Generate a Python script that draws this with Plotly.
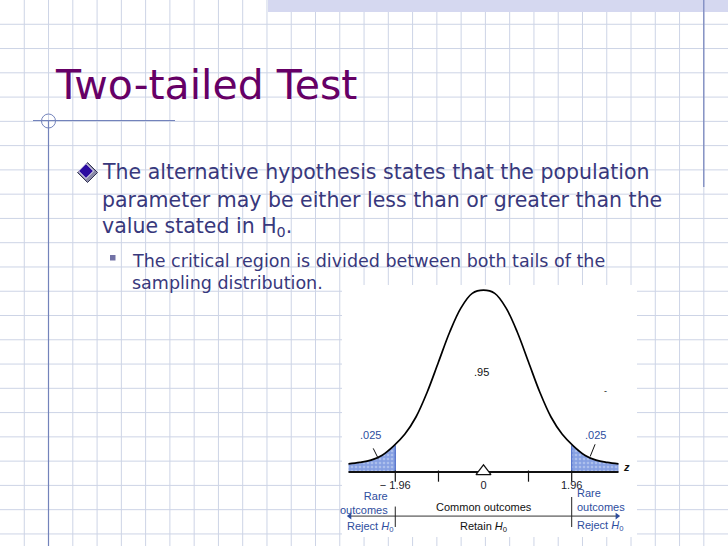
import plotly.graph_objects as go

# normal curve, heights
z_curve = [-3.0, -2.75, -2.5, -2.25, -2.0, -1.75, -1.5, -1.25, -1.0, -0.75, -0.5, -0.25,
           0.0, 0.25, 0.5, 0.75, 1.0, 1.25, 1.5, 1.75, 2.0, 2.25, 2.5, 2.75, 3.0]
dens_curve = [0.018, 0.021, 0.026, 0.037, 0.057, 0.083, 0.121, 0.176, 0.242, 0.308, 0.361, 0.393,
              0.400, 0.393, 0.361, 0.308, 0.242, 0.176, 0.121, 0.083, 0.057, 0.037, 0.026, 0.021, 0.018]

z_tail_left = [-3.0, -2.75, -2.5, -2.25, -1.96]
dens_tail_left = [0.018, 0.021, 0.026, 0.037, 0.059]
z_tail_right = [1.96, 2.25, 2.5, 2.75, 3.0]
dens_tail_right = [0.059, 0.037, 0.026, 0.021, 0.018]

z_crit = [-1.96, 1.96]
tick_vals = [-1.96, -1.0, 1.0, 1.96]
tick_label_vals = [-1.96, 0.0, 1.96]
tick_labels = ["\u2212 1.96", "0", "1.96"]
tail_area = ".025"
mid_area = ".95"

title = "Two-tailed Test"
body_lines = ["The alternative hypothesis states that the population",
              "parameter may be either less than or greater than the",
              "value stated in H<sub>0</sub>."]
sub_lines = ["The critical region is divided between both tails of the",
             "sampling distribution."]

W, H = 728, 546
GRID = 24.27
grid_col = "#cdd4e6"
dark_col = "#7383bb"
blue_txt = "#2d4d9e"
body_col = "#38387c"
slide_font = "DejaVu Sans, Verdana, sans-serif"
fig_font = "Liberation Sans, Arial, sans-serif"


def px(x):
    return x / W


def py(y):
    return (H - y) / H


shapes = []
# notebook grid
i = 1
while i * GRID < W:
    shapes.append(dict(type="line", xref="paper", yref="paper", x0=px(i * GRID), x1=px(i * GRID),
                       y0=0, y1=1, line=dict(color=grid_col, width=1), layer="below"))
    i += 1
j = 1
while j * GRID < H:
    shapes.append(dict(type="line", xref="paper", yref="paper", x0=0, x1=1,
                       y0=py(j * GRID), y1=py(j * GRID), line=dict(color=grid_col, width=1), layer="below"))
    j += 1

# top band
shapes.append(dict(type="rect", xref="paper", yref="paper", x0=px(268), x1=1, y0=py(12), y1=1,
                   fillcolor="#d5d8f0", line=dict(width=0), layer="below"))
# margin lines
shapes.append(dict(type="line", xref="paper", yref="paper", x0=px(48.5), x1=px(48.5), y0=0, y1=py(121),
                   line=dict(color=dark_col, width=1.2), layer="below"))
shapes.append(dict(type="line", xref="paper", yref="paper", x0=px(33), x1=px(175), y0=py(120.5), y1=py(120.5),
                   line=dict(color=dark_col, width=1.2), layer="below"))
shapes.append(dict(type="circle", xref="paper", yref="paper", x0=px(41.5), x1=px(55.5), y0=py(128), y1=py(114),
                   line=dict(color=dark_col, width=1), layer="below"))
shapes.append(dict(type="line", xref="paper", yref="paper", x0=px(703.8), x1=px(703.8), y0=py(187), y1=1,
                   line=dict(color=dark_col, width=1.2), layer="below"))
# white picture area
shapes.append(dict(type="rect", xref="paper", yref="paper", x0=px(342), x1=px(637), y0=py(537), y1=py(285),
                   fillcolor="white", line=dict(width=0), layer="below"))
# bullets
def diamond(cx, cy, r, color, lc):
    path = (f"M {px(cx)} {py(cy - r)} L {px(cx + r)} {py(cy)} L {px(cx)} {py(cy + r)} "
            f"L {px(cx - r)} {py(cy)} Z")
    return dict(type="path", xref="paper", yref="paper", path=path, fillcolor=color,
                line=dict(color=lc, width=1))

shapes.append(diamond(87.5, 172.5, 10, "#8a8aa8", "#333355"))
shapes.append(diamond(86, 171, 7.5, "#2a0aa0", "white"))
shapes.append(dict(type="rect", xref="paper", yref="paper", x0=px(110), x1=px(115.5), y0=py(260.5), y1=py(255),
                   fillcolor="#7272a6", line=dict(width=0)))

fig = go.Figure()

fig.add_trace(go.Scatter(x=z_tail_left, y=dens_tail_left, mode="lines", line=dict(width=0, shape="spline"),
                         fill="tozeroy", fillcolor="#8ca6e6",
                         fillpattern=dict(shape=".", bgcolor="#86a0e2", fgcolor="#d2ddf6", size=4, solidity=0.35),
                         hoverinfo="skip"))
fig.add_trace(go.Scatter(x=z_tail_right, y=dens_tail_right, mode="lines", line=dict(width=0, shape="spline"),
                         fill="tozeroy", fillcolor="#8ca6e6",
                         fillpattern=dict(shape=".", bgcolor="#86a0e2", fgcolor="#d2ddf6", size=4, solidity=0.35),
                         hoverinfo="skip"))
# tail edges
for zc, dc in zip(z_crit, [dens_tail_left[-1], dens_tail_right[0]]):
    fig.add_trace(go.Scatter(x=[zc, zc], y=[0, dc], mode="lines", line=dict(color="#4a6ac8", width=1.2),
                             hoverinfo="skip"))

fig.add_trace(go.Scatter(x=z_curve, y=dens_curve, mode="lines", line=dict(color="black", width=1.7, shape="spline"),
                         hoverinfo="skip"))
# z axis
fig.add_trace(go.Scatter(x=[z_curve[0], z_curve[-1]], y=[0, 0], mode="lines", line=dict(color="#111", width=2),
                         hoverinfo="skip"))
fig.add_trace(go.Scatter(x=tick_vals, y=[-0.009] * len(tick_vals), mode="markers",
                         marker=dict(symbol="line-ns", size=8, line=dict(color="#111", width=1.2)),
                         hoverinfo="skip"))
fig.add_trace(go.Scatter(x=[0], y=[0.0015], mode="markers",
                         marker=dict(symbol="triangle-up", size=13, color="white", line=dict(color="#111", width=1.2)),
                         hoverinfo="skip"))
fig.add_trace(go.Scatter(x=tick_label_vals, y=[-0.031] * 3, mode="text", text=tick_labels,
                         textfont=dict(family=fig_font, size=11, color="#1a1a2a"), hoverinfo="skip"))

# reject / retain arrow
fig.add_trace(go.Scatter(x=[z_curve[0], z_curve[-1]], y=[-0.097, -0.097], mode="lines",
                         line=dict(color="#333", width=1), hoverinfo="skip"))
fig.add_trace(go.Scatter(x=[z_curve[0] + 0.03, z_curve[-1] - 0.03], y=[-0.097, -0.097], mode="markers",
                         marker=dict(symbol=["triangle-left", "triangle-right"], size=6, color="#2d4d9e"),
                         hoverinfo="skip"))
fig.add_trace(go.Scatter(x=[z_crit[0], z_crit[0], None, z_crit[1], z_crit[1]],
                         y=[-0.076, -0.121, None, -0.055, -0.121], mode="lines",
                         line=dict(color="#222", width=1), hoverinfo="skip"))
# leader lines
fig.add_trace(go.Scatter(x=[-2.45, -2.34, None, 2.48, 2.37], y=[0.052, 0.030, None, 0.061, 0.034], mode="lines",
                         line=dict(color="#111", width=1), hoverinfo="skip"))

ann = []
def label(x, y, text, color="#111", size=11, xanchor="center", align="center"):
    ann.append(dict(x=x, y=y, xref="x", yref="y", text=text, showarrow=False, xanchor=xanchor, align=align,
                    font=dict(family=fig_font, size=size, color=color)))

label(-0.05, 0.22, mid_area)
label(-2.52, 0.081, tail_area, color=blue_txt)
label(2.48, 0.081, tail_area, color=blue_txt)
label(2.72, 0.178, "-", size=9)
label(3.17, 0.012, "<b><i>z</i></b>", size=11)
label(-2.07, -0.068, "Rare<br>outcomes", color=blue_txt, xanchor="right", align="right")
label(2.04, -0.0616, "Rare<br>outcomes", color=blue_txt, xanchor="left", align="left")
label(0.01, -0.078, "Common outcomes")
label(-2.52, -0.121, "Reject <i>H</i><sub>0</sub>", color=blue_txt)
label(2.04, -0.118, "Reject <i>H</i><sub>0</sub>", color=blue_txt, xanchor="left", align="left")
label(0.0, -0.122, "Retain <i>H</i><sub>0</sub>")

# slide text
ann.append(dict(x=px(53), y=py(85), xref="paper", yref="paper", text=title, showarrow=False,
                xanchor="left", yanchor="middle", font=dict(family=slide_font, size=41, color="#660066")))
for n, line in enumerate(body_lines):
    ann.append(dict(x=px(100), y=py(172 + n * 27.5), xref="paper", yref="paper", text=line, showarrow=False,
                    xanchor="left", yanchor="middle", font=dict(family=slide_font, size=20.5, color=body_col)))
for n, line in enumerate(sub_lines):
    ann.append(dict(x=px(130), y=py(261 + n * 22), xref="paper", yref="paper", text=line, showarrow=False,
                    xanchor="left", yanchor="middle", font=dict(family=slide_font, size=17.5, color=body_col)))

fig.update_layout(
    width=W, height=H, margin=dict(l=0, r=0, t=0, b=0),
    paper_bgcolor="white", plot_bgcolor="rgba(0,0,0,0)",
    showlegend=False, shapes=shapes, annotations=ann,
    xaxis=dict(domain=[px(342), px(637)], range=[-3.144, 3.411], visible=False, fixedrange=True),
    yaxis=dict(domain=[py(537), py(285)], range=[-0.143, 0.4114], visible=False, fixedrange=True),
)

# page body has a default margin; drop it so the slide sits at the window corner
fig.write_html("out.html", config={"displayModeBar": False},
               post_script="document.body.style.margin='0';")
